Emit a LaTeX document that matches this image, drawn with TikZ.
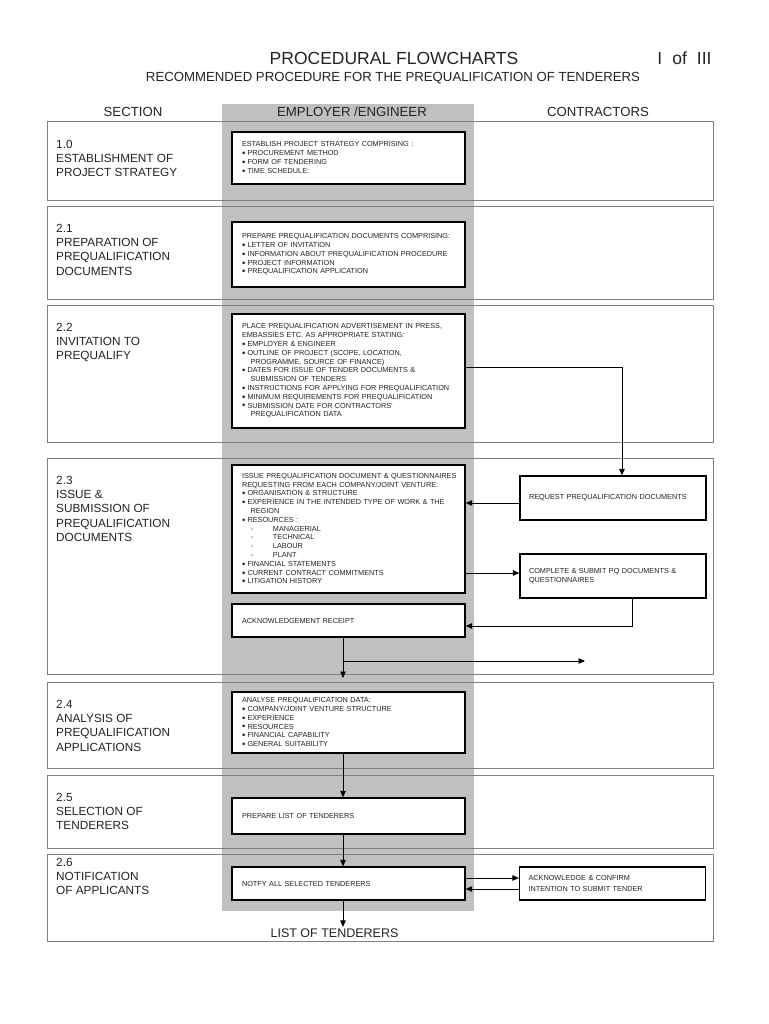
\documentclass[tikz,border=0pt]{standalone}
\usepackage{fontspec}
\setmainfont{Liberation Sans}
\usetikzlibrary{arrows.meta}
\definecolor{colgray}{RGB}{192,192,192}
\definecolor{secgray}{RGB}{128,128,128}
\definecolor{txt}{RGB}{35,35,35}
\newcommand{\bulx}{\makebox[5.5pt][l]{\raisebox{-0.9pt}{\scalebox{1.3}{\textbullet}}}}
\newcommand{\contx}{\hspace*{8.5pt}}
\newcommand{\subx}[1]{\hspace*{9pt}\makebox[22pt][l]{-}#1}
\begin{document}
\begin{tikzpicture}[x=1pt,y=-1pt,
  every node/.style={text=txt},
  secbox/.style={draw=secgray, line width=0.9pt},
  ebox/.style={draw=black, line width=1.3pt, fill=white, rectangle,
    inner xsep=10pt, inner ysep=0pt, text width=213pt, align=left,
    font=\fontsize{7.3}{8.8}\selectfont},
  cbox/.style={draw=black, line width=1.3pt, fill=white, rectangle,
    inner xsep=9pt, inner ysep=0pt, text width=168pt, align=left,
    font=\fontsize{7.3}{8.8}\selectfont},
  secl/.style={anchor=north west, inner sep=0pt, align=left,
    font=\fontsize{11.8}{14.3}\selectfont},
  hdr/.style={inner sep=0pt, font=\fontsize{13.2}{15}\selectfont},
  arr/.style={-{Triangle[length=6.5pt,width=5.5pt]}, line width=0.8pt, draw=black}
]
\useasboundingbox (0,0) rectangle (768,1024);

% gray employer column
\fill[colgray] (222,104) rectangle (474,911);

% titles
\node[inner sep=0pt, font=\fontsize{17.5}{20}\selectfont] (title) at (394,58) {PROCEDURAL FLOWCHARTS};
\node[inner sep=0pt, font=\fontsize{17.5}{20}\selectfont] (page) at (684.5,58) {I\hspace{10pt}of\hspace{10pt}III};
\node[hdr] (subtitle) at (393,78) {RECOMMENDED PROCEDURE FOR THE PREQUALIFICATION OF TENDERERS};

% column headers
\node[hdr] (hsec) at (133,112) {SECTION};
\node[hdr] (hemp) at (352,112) {EMPLOYER /ENGINEER};
\node[hdr] (hcon) at (598,112) {CONTRACTORS};

% section boxes
\draw[secbox] (47,121) rectangle (713,200);
\draw[secbox] (47,206) rectangle (713,299);
\draw[secbox] (47,305) rectangle (713,442);
\draw[secbox] (47,458) rectangle (713,674);
\draw[secbox] (47,682) rectangle (713,768);
\draw[secbox] (47,775) rectangle (713,848);
\draw[secbox] (47,854) rectangle (713,941);

% section labels
\node[secl] (s10) at (56,139.8) {1.0\\ESTABLISHMENT OF\\PROJECT STRATEGY};
\node[secl] (s21) at (56,223.8) {2.1\\PREPARATION OF\\PREQUALIFICATION\\DOCUMENTS};
\node[secl] (s22) at (56,322.8) {2.2\\INVITATION TO\\PREQUALIFY};
\node[secl] (s23) at (56,475.8) {2.3\\ISSUE \&\\SUBMISSION OF\\PREQUALIFICATION\\DOCUMENTS};
\node[secl] (s24) at (56,699.8) {2.4\\ANALYSIS OF\\PREQUALIFICATION\\APPLICATIONS};
\node[secl] (s25) at (56,792.8) {2.5\\SELECTION OF\\TENDERERS};
\node[secl] (s26) at (56,857.8) {2.6\\NOTIFICATION\\OF APPLICANTS};

% employer boxes
\node[ebox, minimum height=52pt] (b1) at (348.5,158) {%
\mbox{ESTABLISH PROJECT STRATEGY COMPRISING :}\\
\mbox{\bulx PROCUREMENT METHOD}\\
\mbox{\bulx FORM OF TENDERING}\\
\mbox{\bulx TIME SCHEDULE:}};

\node[ebox, minimum height=65pt] (b2) at (348.5,254.5) {%
\mbox{PREPARE PREQUALIFICATION DOCUMENTS COMPRISING:}\\
\mbox{\bulx LETTER OF INVITATION}\\
\mbox{\bulx INFORMATION ABOUT PREQUALIFICATION PROCEDURE}\\
\mbox{\bulx PROJECT INFORMATION}\\
\mbox{\bulx PREQUALIFICATION APPLICATION}};

\node[ebox, minimum height=114pt] (b3) at (348.5,371) {%
\mbox{PLACE PREQUALIFICATION ADVERTISEMENT IN PRESS,}\\
\mbox{EMBASSIES ETC. AS APPROPRIATE STATING:}\\
\mbox{\bulx EMPLOYER \& ENGINEER}\\
\mbox{\bulx OUTLINE OF PROJECT (SCOPE, LOCATION,}\\
\mbox{\contx PROGRAMME, SOURCE OF FINANCE)}\\
\mbox{\bulx DATES FOR ISSUE OF TENDER DOCUMENTS \&}\\
\mbox{\contx SUBMISSION OF TENDERS}\\
\mbox{\bulx INSTRUCTIONS FOR APPLYING FOR PREQUALIFICATION}\\
\mbox{\bulx MINIMUM REQUIREMENTS FOR PREQUALIFICATION}\\
\mbox{\bulx SUBMISSION DATE FOR CONTRACTORS'}\\
\mbox{\contx PREQUALIFICATION DATA}};

\node[ebox, minimum height=128pt] (b4) at (348.5,529) {%
\mbox{ISSUE PREQUALIFICATION DOCUMENT \& QUESTIONNAIRES}\\
\mbox{REQUESTING FROM EACH COMPANY/JOINT VENTURE:}\\
\mbox{\bulx ORGANISATION \& STRUCTURE}\\
\mbox{\bulx EXPERIENCE IN THE INTENDED TYPE OF WORK \& THE}\\
\mbox{\contx REGION}\\
\mbox{\bulx RESOURCES :}\\
\mbox{\subx{MANAGERIAL}}\\
\mbox{\subx{TECHNICAL}}\\
\mbox{\subx{LABOUR}}\\
\mbox{\subx{PLANT}}\\
\mbox{\bulx FINANCIAL STATEMENTS}\\
\mbox{\bulx CURRENT CONTRACT COMMITMENTS}\\
\mbox{\bulx LITIGATION HISTORY}};

\node[ebox, minimum height=33pt] (b5) at (348.5,620.5) {ACKNOWLEDGEMENT RECEIPT};

\node[ebox, minimum height=61pt] (b6) at (348.5,722.5) {%
\mbox{ANALYSE PREQUALIFICATION DATA:}\\
\mbox{\bulx COMPANY/JOINT VENTURE STRUCTURE}\\
\mbox{\bulx EXPERIENCE}\\
\mbox{\bulx RESOURCES}\\
\mbox{\bulx FINANCIAL CAPABILITY}\\
\mbox{\bulx GENERAL SUITABILITY}};

\node[ebox, minimum height=36pt] (b7) at (348.5,816) {PREPARE LIST OF TENDERERS};
\node[ebox, minimum height=33pt] (b8) at (348.5,883.5) {NOTFY ALL SELECTED TENDERERS};

% contractor boxes
\node[cbox, minimum height=44pt] (c1) at (613,498) {REQUEST PREQUALIFICATION DOCUMENTS};
\node[cbox, minimum height=44pt] (c2) at (613,576) {%
\mbox{COMPLETE \& SUBMIT PQ DOCUMENTS \&}\\
\mbox{QUESTIONNAIRES}};
\node[cbox, minimum height=33pt, font=\fontsize{7.3}{10.7}\selectfont] (c3) at (612.5,883.5) {%
\mbox{ACKNOWLEDGE \& CONFIRM}\\
\mbox{INTENTION TO SUBMIT TENDER}};

% final label
\node[inner sep=1.5pt, font=\fontsize{12.5}{14}\selectfont] (lst) at (334.5,933) {LIST OF TENDERERS};

% free-end coordinates
\coordinate (j24) at (343,678);
\coordinate (jh) at (343,661);
\coordinate (outR) at (585,661);

% connectors
\draw[arr] ([yshift=4pt]b3.east) -| ([xshift=9pt]c1.north);
\draw[arr] ([yshift=-5pt]c1.west) -- ([yshift=-5pt]c1.west -| b4.east);
\draw[arr] ([yshift=3pt]c2.west -| b4.east) -- ([yshift=3pt]c2.west);
\draw[arr] ([xshift=19pt]c2.south) |- ([yshift=-5.5pt]b5.east);
\draw[arr] ([xshift=-5.5pt]b5.south) -- (j24);
\draw[arr] (jh) -- (outR);
\draw[arr] ([xshift=-5.5pt]b6.south) -- ([xshift=-5.5pt]b7.north);
\draw[arr] ([xshift=-5.5pt]b7.south) -- ([xshift=-5.5pt]b8.north);
\draw[arr] ([xshift=-5.5pt]b8.south) -- ([xshift=-5.5pt]b8.south |- lst.north);
\draw[arr] ([yshift=5.5pt]b8.east) -- ([yshift=5.5pt]b8.east -| c3.west);
\draw[arr] ([yshift=-5.5pt]c3.west) -- ([yshift=-5.5pt]c3.west -| b8.east);
\end{tikzpicture}
\end{document}
